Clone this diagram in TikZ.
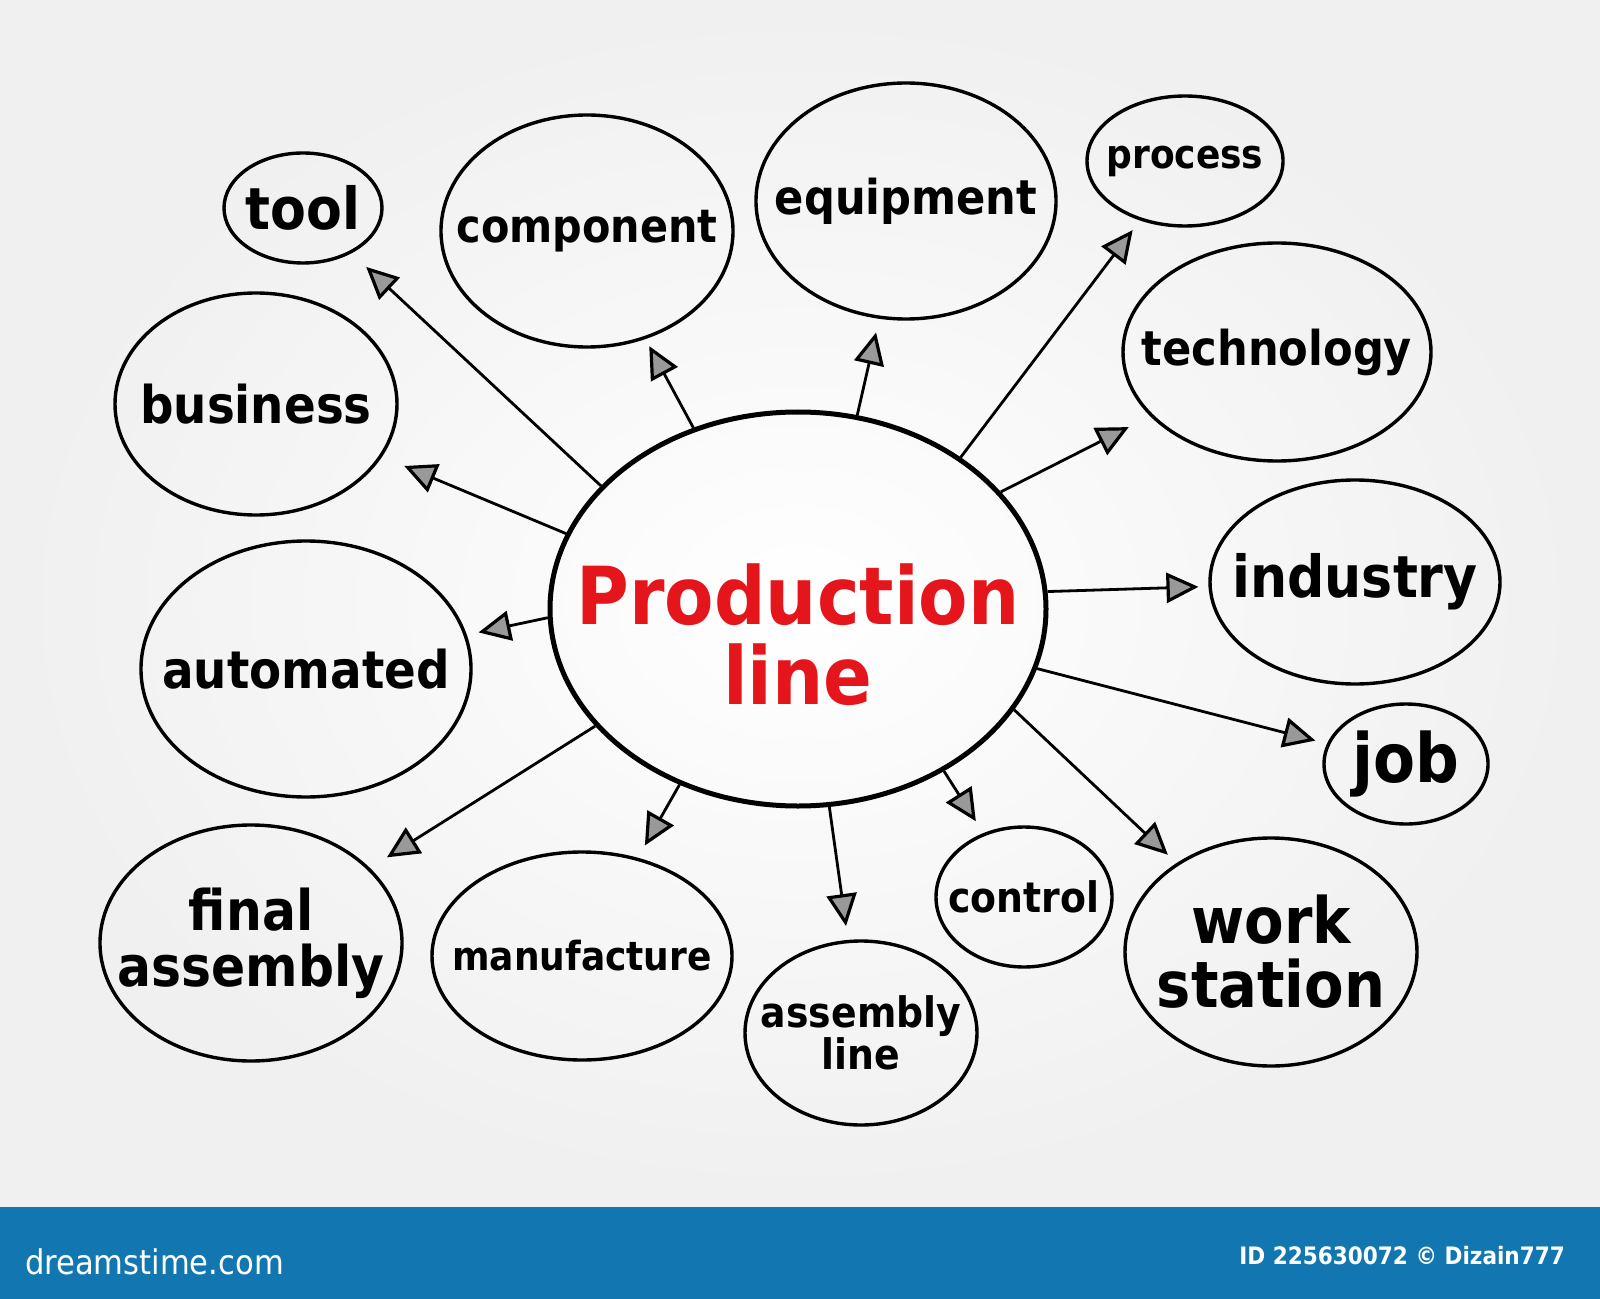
\documentclass[tikz,border=0pt]{standalone}
\usepackage{fontspec}
\setmainfont{DejaVu Sans Condensed}
\usetikzlibrary{shapes.geometric,arrows.meta}

\definecolor{prod red}{RGB}{228,22,28}
\definecolor{bar blue}{RGB}{18,119,176}

\begin{document}
\begin{tikzpicture}[x=0.5pt,y=-0.5pt,
  bubble/.style={ellipse, draw=black, line width=1.7pt, inner sep=0pt},
  word/.style={font=\bfseries\fontsize{#1}{#1}\selectfont, align=center},
  spoke/.style={line width=1.4pt, shorten >=#1,
    -{Triangle[length=16pt,width=15pt,line width=1.6pt,fill=black!40]}},
  spoke/.default=7pt]

\useasboundingbox (0,0) rectangle (1600,1299);
\shade[inner color=white, outer color=black!6] (0,0) rectangle (1600,1207);

% centre
\node[bubble, line width=2.5pt, minimum width=248pt, minimum height=197pt,
      label={[word=40, text=prod red, yshift=-13pt]center:Production\\line}] (hub) at (798,609) {};

% ring of words
\node[bubble, minimum width=79pt,  minimum height=55pt,  label={[word=29]center:tool}]        (tool)       at (303,208)  {};
\node[bubble, minimum width=146pt, minimum height=116pt, label={[word=23]center:component}]   (component)  at (587,231)  {};
\node[bubble, minimum width=150pt, minimum height=118pt, label={[word=24]center:equipment}]   (equipment)  at (906,201)  {};
\node[bubble, minimum width=98pt,  minimum height=65pt,  label={[word=20]center:process}]     (process)    at (1185,161) {};
\node[bubble, minimum width=154pt, minimum height=109pt, label={[word=24]center:technology}]  (technology) at (1277,352) {};
\node[bubble, minimum width=141pt, minimum height=111pt, label={[word=26]center:business}]    (business)   at (256,404)  {};
\node[bubble, minimum width=145pt, minimum height=102pt, label={[word=29]center:industry}]    (industry)   at (1355,582) {};
\node[bubble, minimum width=165pt, minimum height=128pt, label={[word=26]center:automated}]   (automated)  at (306,669)  {};
\node[bubble, minimum width=82pt,  minimum height=60pt,  label={[word=34]center:job}]         (job)        at (1406,764) {};
\node[bubble, minimum width=151pt, minimum height=118pt, label={[word=28]center:final\\assembly}] (final)  at (251,943)  {};
\node[bubble, minimum width=150pt, minimum height=104pt, label={[word=20]center:manufacture}] (manufacture) at (582,956) {};
\node[bubble, minimum width=116pt, minimum height=92pt,  label={[word=21]center:assembly\\line}] (asmline) at (861,1033) {};
\node[bubble, minimum width=88pt,  minimum height=70pt,  label={[word=21]center:control}]     (control)    at (1024,897) {};
\node[bubble, minimum width=146pt, minimum height=114pt, label={[word=32]center:work\\station}] (station)  at (1271,952) {};

% spokes
\draw[spoke=10pt] (hub.148)   -- (tool);
\draw[spoke=4pt]  (hub.120)   -- (component);
\draw[spoke=7pt]  (hub.73)    -- (equipment);
\draw[spoke=6pt]  (hub.43)    -- (process);
\draw[spoke=12pt] (hub.30)    -- (technology);
\draw[spoke=12pt] (hub.162)   -- (business);
\draw[spoke=5pt]  (hub.4)     -- (industry);
\draw[spoke=6pt]  (hub.182)   -- (automated);
\draw[spoke=6pt]  (hub.-14)   -- (job);
\draw[spoke=10pt] (hub.210.5) -- (final);
\draw[spoke=7pt]  (hub.236)   -- (manufacture);
\draw[spoke=7pt]  (hub.279)   -- (asmline);
\draw[spoke=7pt]  (hub.312)   -- (control);
\draw[spoke=6pt]  (hub.335.6) -- (station);

% banner
\fill[bar blue] (0,1207) rectangle (1600,1299);
\node[anchor=west, text=white, font=\fontsize{17}{18}\selectfont] (site) at (18,1262) {dreamstime.com};
\node[anchor=east, text=white, font=\bfseries\fontsize{12}{13}\selectfont] (imgid) at (1572,1256) {ID 225630072 © Dizain777};
\end{tikzpicture}
\end{document}
